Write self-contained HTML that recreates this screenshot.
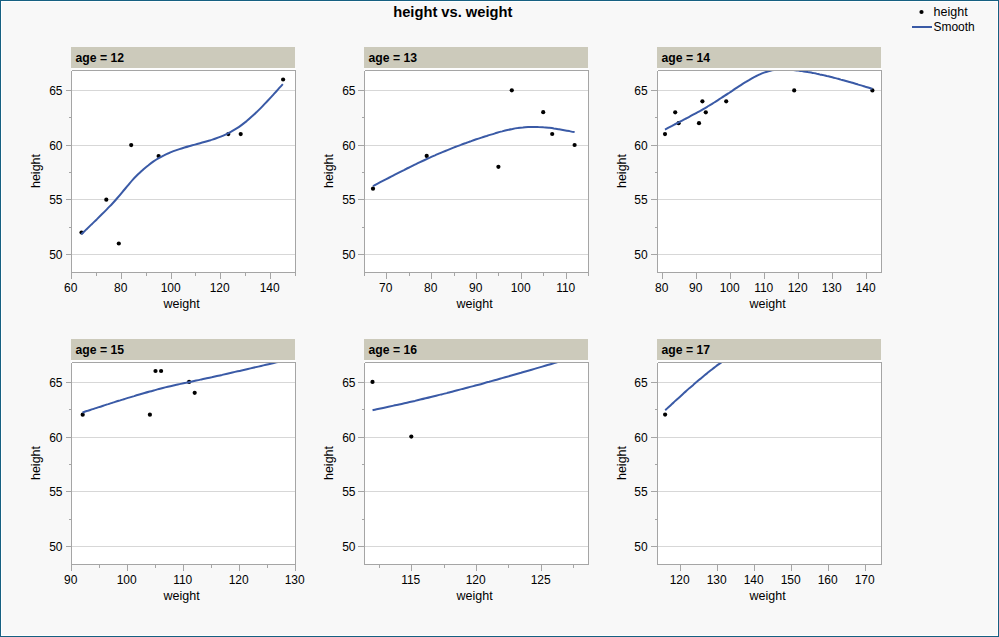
<!DOCTYPE html>
<html><head><meta charset="utf-8"><title>height vs. weight</title>
<style>
html,body{margin:0;padding:0;background:#f8f8f8;}
body{width:999px;height:637px;overflow:hidden;font-family:"Liberation Sans",sans-serif;}
svg{display:block}
text{font-family:"Liberation Sans",sans-serif;fill:#000}
.tk{font-size:12px}
.hd{font-size:12.2px;font-weight:bold}
.at{font-size:12.5px}
.ln{stroke:#a5a5a5;stroke-width:1;shape-rendering:crispEdges}
.gr{stroke:#d7d7d7;stroke-width:1;shape-rendering:crispEdges}
.cv{fill:none;stroke:#3a5aa6;stroke-width:2.0;stroke-linecap:butt;stroke-linejoin:round}
</style></head><body>
<svg width="999" height="637" viewBox="0 0 999 637">
<rect x="0" y="0" width="999" height="637" fill="#f8f8f8"/>
<rect x="1.5" y="1.5" width="996" height="634" fill="none" stroke="#ffffff" stroke-width="1" shape-rendering="crispEdges"/>
<rect x="0.5" y="0.5" width="998" height="636" fill="none" stroke="#166082" stroke-width="1" shape-rendering="crispEdges"/>

<text x="452.8" y="17" text-anchor="middle" style="font-size:14.7px;font-weight:bold">height vs. weight</text>
<circle cx="921.5" cy="12" r="2.1" fill="#000"/>
<text x="933.6" y="16.2" class="at">height</text>
<line x1="912" y1="27" x2="932" y2="27" stroke="#3a5aa6" stroke-width="2" shape-rendering="crispEdges"/>
<text x="933.4" y="30.9" class="tk">Smooth</text>
<defs>
<clipPath id="c0"><rect x="72" y="71" width="223" height="201"/></clipPath>
<clipPath id="c1"><rect x="365" y="71" width="223" height="201"/></clipPath>
<clipPath id="c2"><rect x="658" y="71" width="223" height="201"/></clipPath>
<clipPath id="c3"><rect x="72" y="363" width="223" height="201"/></clipPath>
<clipPath id="c4"><rect x="365" y="363" width="223" height="201"/></clipPath>
<clipPath id="c5"><rect x="658" y="363" width="223" height="201"/></clipPath>
</defs>
<rect x="71" y="47" width="224" height="21" fill="#cccabb" shape-rendering="crispEdges"/>
<text x="75.6" y="61.7" class="hd">age = 12</text>
<rect x="71" y="68" width="225" height="2" fill="#fdfdfd" shape-rendering="crispEdges"/>
<rect x="71" y="70" width="225" height="203" fill="#ffffff" shape-rendering="crispEdges"/>
<line class="gr" x1="72" x2="295" y1="254.5" y2="254.5"/>
<line class="gr" x1="72" x2="295" y1="199.5" y2="199.5"/>
<line class="gr" x1="72" x2="295" y1="145.5" y2="145.5"/>
<line class="gr" x1="72" x2="295" y1="90.5" y2="90.5"/>
<rect class="ln" x="71.5" y="70.5" width="224" height="202" fill="none"/>
<rect x="71" y="70" width="1" height="1" fill="#ffffff" shape-rendering="crispEdges"/>
<line class="ln" x1="66" x2="71" y1="254.5" y2="254.5"/>
<text x="62.5" y="258.5" text-anchor="end" class="tk">50</text>
<line class="ln" x1="66" x2="71" y1="199.5" y2="199.5"/>
<text x="62.5" y="203.5" text-anchor="end" class="tk">55</text>
<line class="ln" x1="66" x2="71" y1="145.5" y2="145.5"/>
<text x="62.5" y="149.5" text-anchor="end" class="tk">60</text>
<line class="ln" x1="66" x2="71" y1="90.5" y2="90.5"/>
<text x="62.5" y="94.5" text-anchor="end" class="tk">65</text>
<line class="ln" x1="69" x2="71" y1="227.5" y2="227.5"/>
<line class="ln" x1="69" x2="71" y1="172.5" y2="172.5"/>
<line class="ln" x1="69" x2="71" y1="117.5" y2="117.5"/>
<line class="ln" x1="71.5" x2="71.5" y1="273" y2="279"/>
<text x="70.7" y="291.7" text-anchor="middle" class="tk">60</text>
<line class="ln" x1="121.5" x2="121.5" y1="273" y2="279"/>
<text x="120.7" y="291.7" text-anchor="middle" class="tk">80</text>
<line class="ln" x1="171.5" x2="171.5" y1="273" y2="279"/>
<text x="170.7" y="291.7" text-anchor="middle" class="tk">100</text>
<line class="ln" x1="220.5" x2="220.5" y1="273" y2="279"/>
<text x="219.7" y="291.7" text-anchor="middle" class="tk">120</text>
<line class="ln" x1="270.5" x2="270.5" y1="273" y2="279"/>
<text x="269.7" y="291.7" text-anchor="middle" class="tk">140</text>
<line class="ln" x1="96.5" x2="96.5" y1="273" y2="276"/>
<line class="ln" x1="146.5" x2="146.5" y1="273" y2="276"/>
<line class="ln" x1="195.5" x2="195.5" y1="273" y2="276"/>
<line class="ln" x1="245.5" x2="245.5" y1="273" y2="276"/>
<line class="ln" x1="295.5" x2="295.5" y1="273" y2="276"/>
<text x="181.6" y="307.5" text-anchor="middle" class="at">weight</text>
<text transform="translate(40,171.0) rotate(-90)" text-anchor="middle" class="at">height</text>
<g clip-path="url(#c0)">
<circle cx="81.5" cy="232.5" r="2.1" fill="#000"/>
<circle cx="106.3" cy="199.7" r="2.1" fill="#000"/>
<circle cx="118.8" cy="243.5" r="2.1" fill="#000"/>
<circle cx="131.2" cy="145.1" r="2.1" fill="#000"/>
<circle cx="158.6" cy="156.0" r="2.1" fill="#000"/>
<circle cx="228.3" cy="134.1" r="2.1" fill="#000"/>
<circle cx="240.7" cy="134.1" r="2.1" fill="#000"/>
<circle cx="283.1" cy="79.5" r="2.1" fill="#000"/>
<path class="cv" transform="translate(0.25,0.4)" d="M81.0,234.0C81.8,233.1 84.4,230.7 86.1,229.0C87.8,227.4 89.6,225.7 91.3,224.0C93.0,222.4 94.7,220.7 96.5,219.0C98.2,217.3 99.9,215.6 101.6,213.9C103.4,212.2 105.1,210.5 106.8,208.7C108.5,206.9 110.2,205.2 112.0,203.3C113.7,201.5 115.4,199.6 117.1,197.6C118.9,195.7 120.6,193.6 122.3,191.5C124.0,189.4 125.8,187.3 127.5,185.2C129.2,183.2 130.9,181.1 132.6,179.2C134.4,177.3 136.1,175.6 137.8,173.9C139.5,172.2 141.3,170.6 143.0,169.0C144.7,167.5 146.4,166.1 148.2,164.8C149.9,163.5 151.6,162.2 153.3,161.0C155.0,159.9 156.8,158.8 158.5,157.8C160.2,156.8 161.9,155.9 163.7,155.0C165.4,154.1 167.1,153.3 168.8,152.6C170.6,151.8 172.3,151.2 174.0,150.5C175.7,149.9 177.4,149.3 179.2,148.7C180.9,148.1 182.6,147.6 184.3,147.1C186.1,146.6 187.8,146.1 189.5,145.6C191.2,145.1 193.0,144.7 194.7,144.2C196.4,143.8 198.1,143.3 199.8,142.8C201.6,142.4 203.3,141.9 205.0,141.4C206.7,140.9 208.5,140.4 210.2,139.9C211.9,139.3 213.6,138.8 215.4,138.1C217.1,137.5 218.8,136.9 220.5,136.2C222.2,135.5 224.0,134.7 225.7,133.9C227.4,133.1 229.1,132.2 230.9,131.3C232.6,130.3 234.3,129.3 236.0,128.2C237.8,127.1 239.5,126.0 241.2,124.7C242.9,123.4 244.6,122.1 246.4,120.7C248.1,119.3 249.8,117.8 251.5,116.2C253.3,114.7 255.0,113.0 256.7,111.4C258.4,109.7 260.2,108.0 261.9,106.2C263.6,104.4 265.3,102.6 267.0,100.8C268.8,98.9 270.5,97.1 272.2,95.2C273.9,93.3 275.7,91.4 277.4,89.4C279.1,87.5 281.7,84.6 282.6,83.7"/>
</g>
<rect x="364" y="47" width="224" height="21" fill="#cccabb" shape-rendering="crispEdges"/>
<text x="368.6" y="61.7" class="hd">age = 13</text>
<rect x="364" y="68" width="225" height="2" fill="#fdfdfd" shape-rendering="crispEdges"/>
<rect x="364" y="70" width="225" height="203" fill="#ffffff" shape-rendering="crispEdges"/>
<line class="gr" x1="365" x2="588" y1="254.5" y2="254.5"/>
<line class="gr" x1="365" x2="588" y1="199.5" y2="199.5"/>
<line class="gr" x1="365" x2="588" y1="145.5" y2="145.5"/>
<line class="gr" x1="365" x2="588" y1="90.5" y2="90.5"/>
<rect class="ln" x="364.5" y="70.5" width="224" height="202" fill="none"/>
<rect x="364" y="70" width="1" height="1" fill="#ffffff" shape-rendering="crispEdges"/>
<line class="ln" x1="358" x2="364" y1="254.5" y2="254.5"/>
<text x="355.5" y="258.5" text-anchor="end" class="tk">50</text>
<line class="ln" x1="358" x2="364" y1="199.5" y2="199.5"/>
<text x="355.5" y="203.5" text-anchor="end" class="tk">55</text>
<line class="ln" x1="358" x2="364" y1="145.5" y2="145.5"/>
<text x="355.5" y="149.5" text-anchor="end" class="tk">60</text>
<line class="ln" x1="358" x2="364" y1="90.5" y2="90.5"/>
<text x="355.5" y="94.5" text-anchor="end" class="tk">65</text>
<line class="ln" x1="362" x2="364" y1="227.5" y2="227.5"/>
<line class="ln" x1="362" x2="364" y1="172.5" y2="172.5"/>
<line class="ln" x1="362" x2="364" y1="117.5" y2="117.5"/>
<line class="ln" x1="386.5" x2="386.5" y1="273" y2="279"/>
<text x="385.7" y="291.7" text-anchor="middle" class="tk">70</text>
<line class="ln" x1="431.5" x2="431.5" y1="273" y2="279"/>
<text x="430.7" y="291.7" text-anchor="middle" class="tk">80</text>
<line class="ln" x1="476.5" x2="476.5" y1="273" y2="279"/>
<text x="475.7" y="291.7" text-anchor="middle" class="tk">90</text>
<line class="ln" x1="521.5" x2="521.5" y1="273" y2="279"/>
<text x="520.7" y="291.7" text-anchor="middle" class="tk">100</text>
<line class="ln" x1="566.5" x2="566.5" y1="273" y2="279"/>
<text x="565.7" y="291.7" text-anchor="middle" class="tk">110</text>
<line class="ln" x1="364.5" x2="364.5" y1="273" y2="276"/>
<line class="ln" x1="409.5" x2="409.5" y1="273" y2="276"/>
<line class="ln" x1="454.5" x2="454.5" y1="273" y2="276"/>
<line class="ln" x1="498.5" x2="498.5" y1="273" y2="276"/>
<line class="ln" x1="543.5" x2="543.5" y1="273" y2="276"/>
<line class="ln" x1="588.5" x2="588.5" y1="273" y2="276"/>
<text x="474.6" y="307.5" text-anchor="middle" class="at">weight</text>
<text transform="translate(333,171.0) rotate(-90)" text-anchor="middle" class="at">height</text>
<g clip-path="url(#c1)">
<circle cx="373.0" cy="188.7" r="2.1" fill="#000"/>
<circle cx="426.7" cy="155.9" r="2.1" fill="#000"/>
<circle cx="498.4" cy="166.8" r="2.1" fill="#000"/>
<circle cx="511.8" cy="90.3" r="2.1" fill="#000"/>
<circle cx="543.2" cy="112.2" r="2.1" fill="#000"/>
<circle cx="552.2" cy="134.0" r="2.1" fill="#000"/>
<circle cx="574.6" cy="145.0" r="2.1" fill="#000"/>
<path class="cv" transform="translate(0,0.5)" d="M373.0,185.7C373.8,185.2 376.4,183.8 378.1,182.9C379.9,182.0 381.6,181.1 383.3,180.2C385.0,179.3 386.7,178.4 388.5,177.5C390.2,176.6 391.9,175.7 393.6,174.8C395.4,173.9 397.1,173.1 398.8,172.2C400.5,171.3 402.3,170.4 404.0,169.6C405.7,168.7 407.4,167.8 409.1,167.0C410.9,166.1 412.6,165.3 414.3,164.4C416.0,163.6 417.8,162.8 419.5,161.9C421.2,161.1 422.9,160.3 424.7,159.5C426.4,158.7 428.1,157.9 429.8,157.2C431.5,156.4 433.3,155.6 435.0,154.9C436.7,154.1 438.4,153.4 440.2,152.6C441.9,151.9 443.6,151.2 445.3,150.5C447.1,149.8 448.8,149.1 450.5,148.4C452.2,147.7 453.9,147.0 455.7,146.3C457.4,145.7 459.1,145.0 460.8,144.4C462.6,143.7 464.3,143.1 466.0,142.5C467.7,141.8 469.5,141.2 471.2,140.6C472.9,140.0 474.6,139.4 476.3,138.8C478.1,138.3 479.8,137.7 481.5,137.1C483.2,136.6 485.0,136.0 486.7,135.5C488.4,134.9 490.1,134.4 491.9,133.9C493.6,133.4 495.3,132.8 497.0,132.3C498.7,131.8 500.5,131.3 502.2,130.9C503.9,130.4 505.6,129.9 507.4,129.5C509.1,129.1 510.8,128.7 512.5,128.4C514.3,128.0 516.0,127.7 517.7,127.5C519.4,127.2 521.1,127.0 522.9,126.9C524.6,126.7 526.3,126.6 528.0,126.5C529.8,126.4 531.5,126.4 533.2,126.4C534.9,126.4 536.7,126.4 538.4,126.5C540.1,126.5 541.8,126.6 543.5,126.8C545.3,126.9 547.0,127.1 548.7,127.3C550.4,127.5 552.2,127.7 553.9,128.0C555.6,128.2 557.3,128.5 559.1,128.8C560.8,129.1 562.5,129.4 564.2,129.7C565.9,130.0 567.7,130.3 569.4,130.6C571.1,131.0 573.7,131.5 574.6,131.6"/>
</g>
<rect x="657" y="47" width="224" height="21" fill="#cccabb" shape-rendering="crispEdges"/>
<text x="661.6" y="61.7" class="hd">age = 14</text>
<rect x="657" y="68" width="225" height="2" fill="#fdfdfd" shape-rendering="crispEdges"/>
<rect x="657" y="70" width="225" height="203" fill="#ffffff" shape-rendering="crispEdges"/>
<line class="gr" x1="658" x2="881" y1="254.5" y2="254.5"/>
<line class="gr" x1="658" x2="881" y1="199.5" y2="199.5"/>
<line class="gr" x1="658" x2="881" y1="145.5" y2="145.5"/>
<line class="gr" x1="658" x2="881" y1="90.5" y2="90.5"/>
<rect class="ln" x="657.5" y="70.5" width="224" height="202" fill="none"/>
<rect x="657" y="70" width="1" height="1" fill="#ffffff" shape-rendering="crispEdges"/>
<line class="ln" x1="651" x2="657" y1="254.5" y2="254.5"/>
<text x="647.6" y="258.5" text-anchor="end" class="tk">50</text>
<line class="ln" x1="651" x2="657" y1="199.5" y2="199.5"/>
<text x="647.6" y="203.5" text-anchor="end" class="tk">55</text>
<line class="ln" x1="651" x2="657" y1="145.5" y2="145.5"/>
<text x="647.6" y="149.5" text-anchor="end" class="tk">60</text>
<line class="ln" x1="651" x2="657" y1="90.5" y2="90.5"/>
<text x="647.6" y="94.5" text-anchor="end" class="tk">65</text>
<line class="ln" x1="655" x2="657" y1="227.5" y2="227.5"/>
<line class="ln" x1="655" x2="657" y1="172.5" y2="172.5"/>
<line class="ln" x1="655" x2="657" y1="117.5" y2="117.5"/>
<line class="ln" x1="662.5" x2="662.5" y1="273" y2="279"/>
<text x="661.7" y="291.7" text-anchor="middle" class="tk">80</text>
<line class="ln" x1="696.5" x2="696.5" y1="273" y2="279"/>
<text x="695.7" y="291.7" text-anchor="middle" class="tk">90</text>
<line class="ln" x1="730.5" x2="730.5" y1="273" y2="279"/>
<text x="729.7" y="291.7" text-anchor="middle" class="tk">100</text>
<line class="ln" x1="764.5" x2="764.5" y1="273" y2="279"/>
<text x="763.7" y="291.7" text-anchor="middle" class="tk">110</text>
<line class="ln" x1="798.5" x2="798.5" y1="273" y2="279"/>
<text x="797.7" y="291.7" text-anchor="middle" class="tk">120</text>
<line class="ln" x1="832.5" x2="832.5" y1="273" y2="279"/>
<text x="831.7" y="291.7" text-anchor="middle" class="tk">130</text>
<line class="ln" x1="866.5" x2="866.5" y1="273" y2="279"/>
<text x="865.7" y="291.7" text-anchor="middle" class="tk">140</text>
<text x="767.6" y="307.5" text-anchor="middle" class="at">weight</text>
<text transform="translate(626,171.0) rotate(-90)" text-anchor="middle" class="at">height</text>
<g clip-path="url(#c2)">
<circle cx="665.0" cy="134.1" r="2.1" fill="#000"/>
<circle cx="675.2" cy="112.3" r="2.1" fill="#000"/>
<circle cx="678.6" cy="123.2" r="2.1" fill="#000"/>
<circle cx="699.0" cy="123.2" r="2.1" fill="#000"/>
<circle cx="702.4" cy="101.3" r="2.1" fill="#000"/>
<circle cx="705.8" cy="112.3" r="2.1" fill="#000"/>
<circle cx="726.2" cy="101.3" r="2.1" fill="#000"/>
<circle cx="794.2" cy="90.4" r="2.1" fill="#000"/>
<circle cx="872.4" cy="90.4" r="2.1" fill="#000"/>
<path class="cv" transform="translate(-0.6,0.4)" d="M665.6,129.2C666.2,128.9 667.9,128.0 669.1,127.3C670.3,126.7 671.5,126.1 672.6,125.5C673.8,124.8 675.0,124.2 676.1,123.6C677.3,123.0 678.5,122.4 679.7,121.8C680.8,121.1 682.0,120.5 683.2,119.9C684.4,119.3 685.5,118.7 686.7,118.1C687.9,117.5 689.0,116.8 690.2,116.2C691.4,115.6 692.6,115.0 693.7,114.3C694.9,113.7 696.1,113.1 697.2,112.4C698.4,111.8 699.6,111.1 700.8,110.5C701.9,109.8 703.1,109.1 704.3,108.4C705.4,107.8 706.6,107.1 707.8,106.4C709.0,105.7 710.1,105.0 711.3,104.3C712.5,103.6 713.6,102.8 714.8,102.1C716.0,101.4 717.2,100.6 718.3,99.9C719.5,99.1 720.7,98.4 721.8,97.6C723.0,96.9 724.2,96.1 725.4,95.3C726.5,94.6 727.7,93.8 728.9,93.0C730.1,92.2 731.2,91.4 732.4,90.7C733.6,89.9 734.7,89.1 735.9,88.3C737.1,87.5 738.3,86.7 739.4,86.0C740.6,85.2 741.8,84.4 742.9,83.7C744.1,82.9 745.3,82.2 746.5,81.5C747.6,80.8 748.8,80.1 750.0,79.4C751.1,78.7 752.3,78.1 753.5,77.4C754.7,76.8 755.8,76.2 757.0,75.6C758.2,75.0 759.3,74.5 760.5,73.9C761.7,73.4 762.9,72.9 764.0,72.5C765.2,72.1 766.4,71.6 767.5,71.3C768.7,70.9 769.9,70.6 771.1,70.3C772.2,70.0 773.4,69.8 774.6,69.6C775.8,69.4 776.9,69.3 778.1,69.2C779.3,69.1 780.4,69.0 781.6,69.0C782.8,68.9 784.0,68.9 785.1,69.0C786.3,69.0 787.5,69.0 788.6,69.1C789.8,69.2 791.0,69.3 792.2,69.4C793.3,69.5 794.5,69.7 795.7,69.8C796.8,69.9 798.0,70.1 799.2,70.2C800.4,70.4 801.5,70.6 802.7,70.7C803.9,70.9 805.0,71.1 806.2,71.3C807.4,71.5 808.6,71.7 809.7,71.9C810.9,72.1 812.1,72.3 813.2,72.5C814.4,72.8 815.6,73.0 816.8,73.2C817.9,73.5 819.1,73.7 820.3,74.0C821.5,74.2 822.6,74.5 823.8,74.7C825.0,75.0 826.1,75.3 827.3,75.6C828.5,75.8 829.7,76.1 830.8,76.4C832.0,76.7 833.2,77.0 834.3,77.3C835.5,77.6 836.7,77.9 837.9,78.2C839.0,78.5 840.2,78.8 841.4,79.2C842.5,79.5 843.7,79.8 844.9,80.1C846.1,80.5 847.2,80.8 848.4,81.1C849.6,81.4 850.7,81.8 851.9,82.1C853.1,82.5 854.3,82.8 855.4,83.1C856.6,83.5 857.8,83.8 858.9,84.2C860.1,84.5 861.3,84.9 862.5,85.2C863.6,85.6 864.8,85.9 866.0,86.3C867.2,86.6 868.3,87.0 869.5,87.3C870.7,87.7 872.4,88.2 873.0,88.4"/>
</g>
<rect x="71" y="339" width="224" height="21" fill="#cccabb" shape-rendering="crispEdges"/>
<text x="75.6" y="353.7" class="hd">age = 15</text>
<rect x="71" y="360" width="225" height="2" fill="#fdfdfd" shape-rendering="crispEdges"/>
<rect x="71" y="362" width="225" height="203" fill="#ffffff" shape-rendering="crispEdges"/>
<line class="gr" x1="72" x2="295" y1="546.5" y2="546.5"/>
<line class="gr" x1="72" x2="295" y1="491.5" y2="491.5"/>
<line class="gr" x1="72" x2="295" y1="437.5" y2="437.5"/>
<line class="gr" x1="72" x2="295" y1="382.5" y2="382.5"/>
<rect class="ln" x="71.5" y="362.5" width="224" height="202" fill="none"/>
<rect x="71" y="362" width="1" height="1" fill="#ffffff" shape-rendering="crispEdges"/>
<line class="ln" x1="66" x2="71" y1="546.5" y2="546.5"/>
<text x="62.5" y="550.5" text-anchor="end" class="tk">50</text>
<line class="ln" x1="66" x2="71" y1="491.5" y2="491.5"/>
<text x="62.5" y="495.5" text-anchor="end" class="tk">55</text>
<line class="ln" x1="66" x2="71" y1="437.5" y2="437.5"/>
<text x="62.5" y="441.5" text-anchor="end" class="tk">60</text>
<line class="ln" x1="66" x2="71" y1="382.5" y2="382.5"/>
<text x="62.5" y="386.5" text-anchor="end" class="tk">65</text>
<line class="ln" x1="69" x2="71" y1="519.5" y2="519.5"/>
<line class="ln" x1="69" x2="71" y1="464.5" y2="464.5"/>
<line class="ln" x1="69" x2="71" y1="409.5" y2="409.5"/>
<line class="ln" x1="71.5" x2="71.5" y1="565" y2="571"/>
<text x="70.7" y="583.7" text-anchor="middle" class="tk">90</text>
<line class="ln" x1="127.5" x2="127.5" y1="565" y2="571"/>
<text x="126.7" y="583.7" text-anchor="middle" class="tk">100</text>
<line class="ln" x1="183.5" x2="183.5" y1="565" y2="571"/>
<text x="182.7" y="583.7" text-anchor="middle" class="tk">110</text>
<line class="ln" x1="239.5" x2="239.5" y1="565" y2="571"/>
<text x="238.7" y="583.7" text-anchor="middle" class="tk">120</text>
<line class="ln" x1="295.5" x2="295.5" y1="565" y2="571"/>
<text x="294.7" y="583.7" text-anchor="middle" class="tk">130</text>
<line class="ln" x1="99.5" x2="99.5" y1="565" y2="568"/>
<line class="ln" x1="155.5" x2="155.5" y1="565" y2="568"/>
<line class="ln" x1="211.5" x2="211.5" y1="565" y2="568"/>
<line class="ln" x1="267.5" x2="267.5" y1="565" y2="568"/>
<text x="181.6" y="599.5" text-anchor="middle" class="at">weight</text>
<text transform="translate(40,463.0) rotate(-90)" text-anchor="middle" class="at">height</text>
<g clip-path="url(#c3)">
<circle cx="82.7" cy="414.7" r="2.1" fill="#000"/>
<circle cx="149.9" cy="414.7" r="2.1" fill="#000"/>
<circle cx="155.5" cy="371.0" r="2.1" fill="#000"/>
<circle cx="161.1" cy="371.0" r="2.1" fill="#000"/>
<circle cx="189.1" cy="381.9" r="2.1" fill="#000"/>
<circle cx="194.7" cy="392.8" r="2.1" fill="#000"/>
<path class="cv" transform="translate(0.3,-0.1)" d="M82.2,412.6C83.1,412.3 85.6,411.4 87.4,410.9C89.1,410.3 90.8,409.8 92.5,409.2C94.3,408.6 96.0,408.1 97.7,407.5C99.4,407.0 101.2,406.4 102.9,405.8C104.6,405.3 106.3,404.7 108.0,404.2C109.8,403.6 111.5,403.1 113.2,402.5C114.9,402.0 116.7,401.5 118.4,400.9C120.1,400.4 121.8,399.8 123.6,399.3C125.3,398.8 127.0,398.2 128.7,397.7C130.4,397.2 132.2,396.7 133.9,396.2C135.6,395.6 137.3,395.1 139.1,394.6C140.8,394.1 142.5,393.6 144.2,393.1C146.0,392.6 147.7,392.1 149.4,391.6C151.1,391.2 152.8,390.7 154.6,390.2C156.3,389.7 158.0,389.3 159.7,388.8C161.5,388.4 163.2,388.0 164.9,387.5C166.6,387.1 168.4,386.7 170.1,386.3C171.8,385.9 173.5,385.5 175.2,385.1C177.0,384.7 178.7,384.4 180.4,384.0C182.1,383.6 183.9,383.2 185.6,382.9C187.3,382.5 189.0,382.1 190.8,381.8C192.5,381.4 194.2,381.0 195.9,380.6C197.6,380.3 199.4,379.9 201.1,379.5C202.8,379.2 204.5,378.8 206.3,378.4C208.0,378.0 209.7,377.6 211.4,377.3C213.2,376.9 214.9,376.5 216.6,376.1C218.3,375.7 220.0,375.3 221.8,375.0C223.5,374.6 225.2,374.2 226.9,373.8C228.7,373.4 230.4,373.0 232.1,372.6C233.8,372.2 235.6,371.8 237.3,371.4C239.0,371.1 240.7,370.7 242.4,370.3C244.2,369.9 245.9,369.5 247.6,369.1C249.3,368.7 251.1,368.3 252.8,367.9C254.5,367.5 256.2,367.1 258.0,366.7C259.7,366.3 261.4,365.9 263.1,365.5C264.8,365.1 266.6,364.7 268.3,364.3C270.0,363.9 271.7,363.5 273.5,363.1C275.2,362.7 276.9,362.3 278.6,361.9C280.4,361.5 282.9,360.9 283.8,360.7"/>
</g>
<rect x="364" y="339" width="224" height="21" fill="#cccabb" shape-rendering="crispEdges"/>
<text x="368.6" y="353.7" class="hd">age = 16</text>
<rect x="364" y="360" width="225" height="2" fill="#fdfdfd" shape-rendering="crispEdges"/>
<rect x="364" y="362" width="225" height="203" fill="#ffffff" shape-rendering="crispEdges"/>
<line class="gr" x1="365" x2="588" y1="546.5" y2="546.5"/>
<line class="gr" x1="365" x2="588" y1="491.5" y2="491.5"/>
<line class="gr" x1="365" x2="588" y1="437.5" y2="437.5"/>
<line class="gr" x1="365" x2="588" y1="382.5" y2="382.5"/>
<rect class="ln" x="364.5" y="362.5" width="224" height="202" fill="none"/>
<rect x="364" y="362" width="1" height="1" fill="#ffffff" shape-rendering="crispEdges"/>
<line class="ln" x1="358" x2="364" y1="546.5" y2="546.5"/>
<text x="355.5" y="550.5" text-anchor="end" class="tk">50</text>
<line class="ln" x1="358" x2="364" y1="491.5" y2="491.5"/>
<text x="355.5" y="495.5" text-anchor="end" class="tk">55</text>
<line class="ln" x1="358" x2="364" y1="437.5" y2="437.5"/>
<text x="355.5" y="441.5" text-anchor="end" class="tk">60</text>
<line class="ln" x1="358" x2="364" y1="382.5" y2="382.5"/>
<text x="355.5" y="386.5" text-anchor="end" class="tk">65</text>
<line class="ln" x1="362" x2="364" y1="519.5" y2="519.5"/>
<line class="ln" x1="362" x2="364" y1="464.5" y2="464.5"/>
<line class="ln" x1="362" x2="364" y1="409.5" y2="409.5"/>
<line class="ln" x1="411.5" x2="411.5" y1="565" y2="571"/>
<text x="410.7" y="583.7" text-anchor="middle" class="tk">115</text>
<line class="ln" x1="476.5" x2="476.5" y1="565" y2="571"/>
<text x="475.7" y="583.7" text-anchor="middle" class="tk">120</text>
<line class="ln" x1="541.5" x2="541.5" y1="565" y2="571"/>
<text x="540.7" y="583.7" text-anchor="middle" class="tk">125</text>
<line class="ln" x1="379.5" x2="379.5" y1="565" y2="568"/>
<line class="ln" x1="444.5" x2="444.5" y1="565" y2="568"/>
<line class="ln" x1="508.5" x2="508.5" y1="565" y2="568"/>
<line class="ln" x1="573.5" x2="573.5" y1="565" y2="568"/>
<text x="474.6" y="599.5" text-anchor="middle" class="at">weight</text>
<text transform="translate(333,463.0) rotate(-90)" text-anchor="middle" class="at">height</text>
<g clip-path="url(#c4)">
<circle cx="372.5" cy="381.9" r="2.1" fill="#000"/>
<circle cx="411.3" cy="436.6" r="2.1" fill="#000"/>
<path class="cv" transform="translate(-0.15,-0.1)" d="M372.7,410.3C373.5,410.1 376.2,409.6 378.0,409.2C379.7,408.8 381.5,408.4 383.3,408.0C385.0,407.7 386.8,407.3 388.6,406.9C390.3,406.5 392.1,406.1 393.9,405.7C395.6,405.3 397.4,405.0 399.2,404.6C401.0,404.2 402.7,403.8 404.5,403.4C406.3,403.0 408.0,402.6 409.8,402.2C411.6,401.8 413.3,401.4 415.1,401.0C416.9,400.5 418.6,400.1 420.4,399.7C422.2,399.3 423.9,398.9 425.7,398.4C427.5,398.0 429.2,397.6 431.0,397.1C432.8,396.7 434.6,396.3 436.3,395.8C438.1,395.4 439.9,395.0 441.6,394.5C443.4,394.1 445.2,393.6 446.9,393.2C448.7,392.7 450.5,392.3 452.2,391.8C454.0,391.4 455.8,390.9 457.5,390.4C459.3,390.0 461.1,389.5 462.8,389.0C464.6,388.6 466.4,388.1 468.1,387.6C469.9,387.2 471.7,386.7 473.5,386.2C475.2,385.7 477.0,385.3 478.8,384.8C480.5,384.3 482.3,383.8 484.1,383.3C485.8,382.8 487.6,382.3 489.4,381.9C491.1,381.4 492.9,380.9 494.7,380.4C496.4,379.9 498.2,379.4 500.0,378.9C501.7,378.4 503.5,377.9 505.3,377.4C507.0,376.9 508.8,376.4 510.6,375.9C512.4,375.4 514.1,374.9 515.9,374.4C517.7,373.9 519.4,373.4 521.2,372.9C523.0,372.3 524.7,371.8 526.5,371.3C528.3,370.8 530.0,370.3 531.8,369.8C533.6,369.3 535.3,368.8 537.1,368.2C538.9,367.7 540.6,367.2 542.4,366.7C544.2,366.2 545.9,365.7 547.7,365.1C549.5,364.6 551.3,364.1 553.0,363.6C554.8,363.1 556.6,362.5 558.3,362.0C560.1,361.5 561.9,361.0 563.6,360.4C565.4,359.9 567.2,359.4 568.9,358.9C570.7,358.4 572.5,357.8 574.2,357.3C576.0,356.8 578.7,356.0 579.5,355.7"/>
</g>
<rect x="657" y="339" width="224" height="21" fill="#cccabb" shape-rendering="crispEdges"/>
<text x="661.6" y="353.7" class="hd">age = 17</text>
<rect x="657" y="360" width="225" height="2" fill="#fdfdfd" shape-rendering="crispEdges"/>
<rect x="657" y="362" width="225" height="203" fill="#ffffff" shape-rendering="crispEdges"/>
<line class="gr" x1="658" x2="881" y1="546.5" y2="546.5"/>
<line class="gr" x1="658" x2="881" y1="491.5" y2="491.5"/>
<line class="gr" x1="658" x2="881" y1="437.5" y2="437.5"/>
<line class="gr" x1="658" x2="881" y1="382.5" y2="382.5"/>
<rect class="ln" x="657.5" y="362.5" width="224" height="202" fill="none"/>
<rect x="657" y="362" width="1" height="1" fill="#ffffff" shape-rendering="crispEdges"/>
<line class="ln" x1="651" x2="657" y1="546.5" y2="546.5"/>
<text x="647.6" y="550.5" text-anchor="end" class="tk">50</text>
<line class="ln" x1="651" x2="657" y1="491.5" y2="491.5"/>
<text x="647.6" y="495.5" text-anchor="end" class="tk">55</text>
<line class="ln" x1="651" x2="657" y1="437.5" y2="437.5"/>
<text x="647.6" y="441.5" text-anchor="end" class="tk">60</text>
<line class="ln" x1="651" x2="657" y1="382.5" y2="382.5"/>
<text x="647.6" y="386.5" text-anchor="end" class="tk">65</text>
<line class="ln" x1="655" x2="657" y1="519.5" y2="519.5"/>
<line class="ln" x1="655" x2="657" y1="464.5" y2="464.5"/>
<line class="ln" x1="655" x2="657" y1="409.5" y2="409.5"/>
<line class="ln" x1="680.5" x2="680.5" y1="565" y2="571"/>
<text x="679.7" y="583.7" text-anchor="middle" class="tk">120</text>
<line class="ln" x1="717.5" x2="717.5" y1="565" y2="571"/>
<text x="716.7" y="583.7" text-anchor="middle" class="tk">130</text>
<line class="ln" x1="754.5" x2="754.5" y1="565" y2="571"/>
<text x="753.7" y="583.7" text-anchor="middle" class="tk">140</text>
<line class="ln" x1="791.5" x2="791.5" y1="565" y2="571"/>
<text x="790.7" y="583.7" text-anchor="middle" class="tk">150</text>
<line class="ln" x1="828.5" x2="828.5" y1="565" y2="571"/>
<text x="827.7" y="583.7" text-anchor="middle" class="tk">160</text>
<line class="ln" x1="865.5" x2="865.5" y1="565" y2="571"/>
<text x="864.7" y="583.7" text-anchor="middle" class="tk">170</text>
<text x="767.6" y="599.5" text-anchor="middle" class="at">weight</text>
<text transform="translate(626,463.0) rotate(-90)" text-anchor="middle" class="at">height</text>
<g clip-path="url(#c5)">
<circle cx="665.1" cy="414.6" r="2.1" fill="#000"/>
<path class="cv" transform="translate(-0.5,-0.2)" d="M665.7,410.4C666.3,409.9 668.0,408.3 669.2,407.2C670.4,406.1 671.5,405.1 672.7,404.0C673.9,402.9 675.0,401.8 676.2,400.8C677.4,399.7 678.6,398.6 679.7,397.6C680.9,396.5 682.1,395.4 683.2,394.4C684.4,393.3 685.6,392.3 686.7,391.2C687.9,390.2 689.1,389.2 690.2,388.1C691.4,387.1 692.6,386.1 693.8,385.1C694.9,384.0 696.1,383.0 697.3,382.0C698.4,381.0 699.6,380.0 700.8,379.1C701.9,378.1 703.1,377.1 704.3,376.1C705.4,375.2 706.6,374.2 707.8,373.3C709.0,372.3 710.1,371.4 711.3,370.5C712.5,369.6 713.6,368.7 714.8,367.8C716.0,366.9 717.1,366.0 718.3,365.1C719.5,364.3 720.7,363.4 721.8,362.6C723.0,361.8 724.2,360.9 725.3,360.1C726.5,359.3 727.7,358.6 728.8,357.8C730.0,357.0 731.2,356.3 732.3,355.5C733.5,354.8 734.7,354.1 735.9,353.4C737.0,352.7 738.2,352.0 739.4,351.3C740.5,350.7 741.7,350.0 742.9,349.4C744.0,348.8 745.2,348.2 746.4,347.6C747.5,347.0 748.7,346.4 749.9,345.8C751.1,345.3 752.2,344.7 753.4,344.2C754.6,343.6 755.7,343.1 756.9,342.6C758.1,342.1 759.2,341.6 760.4,341.2C761.6,340.7 762.8,340.2 763.9,339.8C765.1,339.3 766.3,338.9 767.4,338.5C768.6,338.1 769.8,337.7 770.9,337.3C772.1,336.9 773.3,336.5 774.4,336.1C775.6,335.8 776.8,335.4 778.0,335.1C779.1,334.7 780.3,334.4 781.5,334.1C782.6,333.8 783.8,333.5 785.0,333.2C786.1,332.9 787.3,332.6 788.5,332.3C789.7,332.1 790.8,331.8 792.0,331.5C793.2,331.3 794.3,331.1 795.5,330.8C796.7,330.6 797.8,330.4 799.0,330.2C800.2,330.0 801.3,329.8 802.5,329.6C803.7,329.4 804.9,329.2 806.0,329.0C807.2,328.8 808.4,328.7 809.5,328.5C810.7,328.4 811.9,328.2 813.0,328.1C814.2,327.9 815.4,327.8 816.5,327.7C817.7,327.5 818.9,327.4 820.1,327.3C821.2,327.2 822.4,327.1 823.6,327.0C824.7,326.9 825.9,326.8 827.1,326.7C828.2,326.6 829.4,326.5 830.6,326.5C831.8,326.4 832.9,326.3 834.1,326.2C835.3,326.2 836.4,326.1 837.6,326.1C838.8,326.0 839.9,326.0 841.1,325.9C842.3,325.9 843.4,325.8 844.6,325.8C845.8,325.7 847.0,325.7 848.1,325.7C849.3,325.6 850.5,325.6 851.6,325.6C852.8,325.5 854.0,325.5 855.1,325.5C856.3,325.5 857.5,325.5 858.6,325.4C859.8,325.4 861.0,325.4 862.2,325.4C863.3,325.4 864.5,325.4 865.7,325.3C866.8,325.3 868.0,325.3 869.2,325.3C870.3,325.3 872.1,325.3 872.7,325.3"/>
</g>
</svg></body></html>
